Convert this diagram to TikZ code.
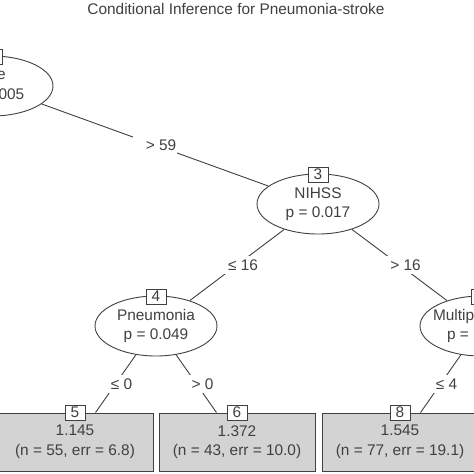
\documentclass[tikz,border=0pt]{standalone}
\usepackage{fontspec}
\setmainfont{Liberation Sans}
\usetikzlibrary{shapes.geometric, calc}

\definecolor{inkgray}{HTML}{404040}
\definecolor{leafgray}{HTML}{D3D3D3}

\begin{document}
\begin{tikzpicture}[
    x=1pt, y=-1pt,
    font=\fontsize{15.4}{19.5}\selectfont,
    every node/.style={text=inkgray},
    split/.style={draw=inkgray, line width=0.9pt, ellipse, fill=white, minimum width=122pt, minimum height=60pt, inner sep=0pt, align=center},
    leaf/.style={draw=inkgray, line width=0.9pt, rectangle, fill=leafgray, minimum width=156pt, minimum height=58pt, inner sep=0pt, align=center},
    idbox/.style={draw=inkgray, line width=0.9pt, rectangle, fill=white, minimum width=20pt, minimum height=15pt, inner sep=0pt},
    cond/.style={fill=white, minimum width=44pt, minimum height=18pt, inner sep=0pt, execute at begin node=\hspace*{12pt}},
    branch/.style={draw=inkgray, line width=0.9pt}
]
    \useasboundingbox (0,0) rectangle (474,474);
    \clip (0,0) rectangle (474,474);

    \node (title) at (236,9) {Conditional Inference for Pneumonia-stroke};

    % inner nodes
    \node[split] (n1) at (-8,86) {Age\\p = 0.005};
    \node[split] (n3) at (318,204) {NIHSS\\p = 0.017};
    \node[split] (n4) at (156,326) {Pneumonia\\p = 0.049};
    \node[split] (n7) at (481,326) {\makebox[0pt][l]{\hspace*{-48pt}Multip}\\\makebox[0pt][l]{\hspace*{-34pt}p =}};

    % terminal nodes
    \node[leaf] (l5) at (75,442) {1.145\\(n = 55, err = 6.8)};
    \node[leaf] (l6) at (237,442) {1.372\\(n = 43, err = 10.0)};
    \node[leaf] (l8) at (400,442) {1.545\\(n = 77, err = 19.1)};

    \draw[branch] (n1) -- (n3);
    \draw[branch] (n3) -- (n4);
    \draw[branch] (n3) -- (n7);
    \draw[branch] (n4) -- (l5);
    \draw[branch] (n4) -- (l6);
    \draw[branch] (n7) -- (l8);

    \node[cond] (c13) at ($(n1)!0.5!(n3)$) {> 59};
    \node[cond] (c34) at ($(n3)!0.5!(n4)$) {≤ 16};
    \node[cond] (c37) at ($(n3)!0.5!(n7)$) {> 16};
    \node[cond] (c45) at ($(n4)!0.5!(l5)$) {≤ 0};
    \node[cond] (c46) at ($(n4)!0.5!(l6)$) {> 0};
    \node[cond] (c78) at ($(n7)!0.5!(l8)$) {≤ 4};

    % node numbers
    \node[idbox, yshift=-1pt] (b1) at (n1.north) {1};
    \node[idbox, yshift=-1pt] (b3) at (n3.north) {3};
    \node[idbox, yshift=-1pt] (b4) at (n4.north) {4};
    \node[idbox, yshift=-1pt] (b7) at (n7.north) {7};
    \node[idbox] (b5) at (l5.north) {5};
    \node[idbox] (b6) at (l6.north) {6};
    \node[idbox] (b8) at (l8.north) {8};
\end{tikzpicture}
\end{document}
